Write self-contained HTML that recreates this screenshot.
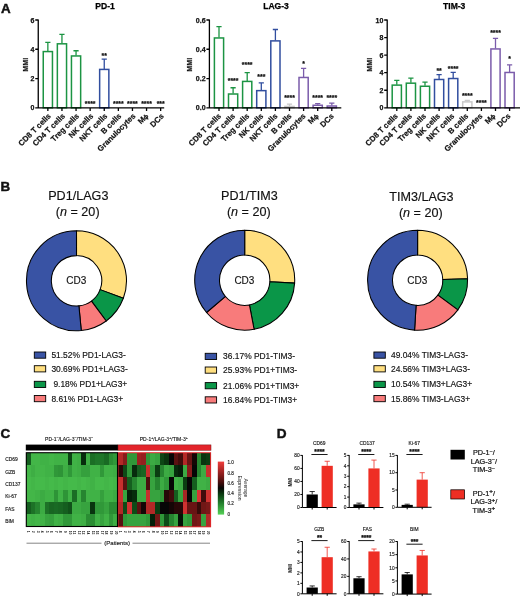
<!DOCTYPE html>
<html lang="en"><head><meta charset="utf-8"><title>Figure</title>
<style>
html,body{margin:0;padding:0;background:#fff}
body{width:520px;height:597px;overflow:hidden}
svg{display:block}
svg text{font-family:"Liberation Sans",Arial,Helvetica,sans-serif}
</style></head><body>
<svg width="520" height="597" viewBox="0 0 520 597">
<rect width="520" height="597" fill="#fff"/>
<text x="105.10" y="8.85" font-size="8.55" font-weight="bold" text-anchor="middle" fill="#000"  stroke="#000" stroke-width="0.25">PD-1</text>
<text transform="translate(27.80,64.8) rotate(-90)" font-size="7.2" font-weight="bold" text-anchor="middle" fill="#111" stroke="#111" stroke-width="0.2">MMI</text>
<path d="M47.85 51.17V42.39M45.25 42.39H50.45" stroke="#1c9443" stroke-width="1.3" fill="none"/>
<rect x="43.25" y="51.57" width="9.2" height="56.23" fill="#fff" stroke="#1c9443" stroke-width="1.5"/>
<path d="M61.95 43.41V34.34M59.35 34.34H64.55" stroke="#1c9443" stroke-width="1.3" fill="none"/>
<rect x="57.35" y="43.81" width="9.2" height="63.99" fill="#fff" stroke="#1c9443" stroke-width="1.5"/>
<path d="M76.05 55.56V50.73M73.45 50.73H78.65" stroke="#1c9443" stroke-width="1.3" fill="none"/>
<rect x="71.45" y="55.96" width="9.2" height="51.84" fill="#fff" stroke="#1c9443" stroke-width="1.5"/>
<text x="90.15" y="105.50" font-size="6.9" font-weight="bold" text-anchor="middle" fill="#111"  stroke="#111" stroke-width="0.25">****</text>
<path d="M104.25 69.02V59.07M101.65 59.07H106.85" stroke="#314e9f" stroke-width="1.3" fill="none"/>
<rect x="99.65" y="69.42" width="9.2" height="38.38" fill="#fff" stroke="#314e9f" stroke-width="1.5"/>
<text x="104.25" y="58.20" font-size="6.9" font-weight="bold" text-anchor="middle" fill="#111"  stroke="#111" stroke-width="0.25">**</text>
<text x="118.35" y="105.50" font-size="6.9" font-weight="bold" text-anchor="middle" fill="#111"  stroke="#111" stroke-width="0.25">****</text>
<text x="132.45" y="105.50" font-size="6.9" font-weight="bold" text-anchor="middle" fill="#111"  stroke="#111" stroke-width="0.25">****</text>
<text x="146.55" y="105.50" font-size="6.9" font-weight="bold" text-anchor="middle" fill="#111"  stroke="#111" stroke-width="0.25">****</text>
<text x="160.65" y="105.50" font-size="6.9" font-weight="bold" text-anchor="middle" fill="#111"  stroke="#111" stroke-width="0.25">***</text>
<path d="M38.25 19.50V107.80H164.20M38.25 107.80h-3M38.25 78.53h-3M38.25 49.27h-3M38.25 20.00h-3M47.85 107.80v3.2M61.95 107.80v3.2M76.05 107.80v3.2M90.15 107.80v3.2M104.25 107.80v3.2M118.35 107.80v3.2M132.45 107.80v3.2M146.55 107.80v3.2M160.65 107.80v3.2" stroke="#000" stroke-width="1.3" fill="none"/>
<text x="34.45" y="110.30" font-size="7.0" font-weight="bold" text-anchor="end" fill="#111"  stroke="#111" stroke-width="0.25">0</text>
<text x="34.45" y="81.03" font-size="7.0" font-weight="bold" text-anchor="end" fill="#111"  stroke="#111" stroke-width="0.25">2</text>
<text x="34.45" y="51.77" font-size="7.0" font-weight="bold" text-anchor="end" fill="#111"  stroke="#111" stroke-width="0.25">4</text>
<text x="34.45" y="22.50" font-size="7.0" font-weight="bold" text-anchor="end" fill="#111"  stroke="#111" stroke-width="0.25">6</text>
<text transform="translate(51.45,116.60) rotate(-45)" font-size="7.85" font-weight="bold" text-anchor="end" fill="#111" stroke="#111" stroke-width="0.2">CD8 T cells</text>
<text transform="translate(65.55,116.60) rotate(-45)" font-size="7.85" font-weight="bold" text-anchor="end" fill="#111" stroke="#111" stroke-width="0.2">CD4 T cells</text>
<text transform="translate(79.65,116.60) rotate(-45)" font-size="7.85" font-weight="bold" text-anchor="end" fill="#111" stroke="#111" stroke-width="0.2">Treg cells</text>
<text transform="translate(93.75,116.60) rotate(-45)" font-size="7.85" font-weight="bold" text-anchor="end" fill="#111" stroke="#111" stroke-width="0.2">NK cells</text>
<text transform="translate(107.85,116.60) rotate(-45)" font-size="7.85" font-weight="bold" text-anchor="end" fill="#111" stroke="#111" stroke-width="0.2">NKT cells</text>
<text transform="translate(121.95,116.60) rotate(-45)" font-size="7.85" font-weight="bold" text-anchor="end" fill="#111" stroke="#111" stroke-width="0.2">B cells</text>
<text transform="translate(136.05,116.60) rotate(-45)" font-size="7.85" font-weight="bold" text-anchor="end" fill="#111" stroke="#111" stroke-width="0.2">Granulocytes</text>
<text transform="translate(148.95,116.60) rotate(-45)" font-size="7.85" font-weight="bold" text-anchor="end" fill="#111" stroke="#111" stroke-width="0.2">M<tspan font-size="6.4">ϕ</tspan></text>
<text transform="translate(164.25,116.60) rotate(-45)" font-size="7.85" font-weight="bold" text-anchor="end" fill="#111" stroke="#111" stroke-width="0.2">DCs</text>
<text x="276.00" y="8.85" font-size="8.55" font-weight="bold" text-anchor="middle" fill="#000"  stroke="#000" stroke-width="0.25">LAG-3</text>
<text transform="translate(191.80,64.8) rotate(-90)" font-size="7.2" font-weight="bold" text-anchor="middle" fill="#111" stroke="#111" stroke-width="0.2">MMI</text>
<path d="M219.00 37.56V26.58M216.40 26.58H221.60" stroke="#1c9443" stroke-width="1.3" fill="none"/>
<rect x="214.40" y="37.96" width="9.2" height="69.84" fill="#fff" stroke="#1c9443" stroke-width="1.5"/>
<path d="M233.10 93.61V87.75M230.50 87.75H235.70" stroke="#1c9443" stroke-width="1.3" fill="none"/>
<rect x="228.50" y="94.01" width="9.2" height="13.79" fill="#fff" stroke="#1c9443" stroke-width="1.5"/>
<text x="233.10" y="82.50" font-size="6.9" font-weight="bold" text-anchor="middle" fill="#111"  stroke="#111" stroke-width="0.25">****</text>
<path d="M247.20 81.02V72.68M244.60 72.68H249.80" stroke="#1c9443" stroke-width="1.3" fill="none"/>
<rect x="242.60" y="81.42" width="9.2" height="26.38" fill="#fff" stroke="#1c9443" stroke-width="1.5"/>
<text x="247.20" y="67.10" font-size="6.9" font-weight="bold" text-anchor="middle" fill="#111"  stroke="#111" stroke-width="0.25">****</text>
<path d="M261.30 90.24V82.92M258.70 82.92H263.90" stroke="#314e9f" stroke-width="1.3" fill="none"/>
<rect x="256.70" y="90.64" width="9.2" height="17.16" fill="#fff" stroke="#314e9f" stroke-width="1.5"/>
<text x="261.30" y="79.20" font-size="6.9" font-weight="bold" text-anchor="middle" fill="#111"  stroke="#111" stroke-width="0.25">***</text>
<path d="M275.40 40.49V29.51M272.80 29.51H278.00" stroke="#314e9f" stroke-width="1.3" fill="none"/>
<rect x="270.80" y="40.89" width="9.2" height="66.91" fill="#fff" stroke="#314e9f" stroke-width="1.5"/>
<path d="M289.50 106.04V104.14M286.90 104.14H292.10" stroke="#c9c9c9" stroke-width="1.3" fill="none"/>
<rect x="284.90" y="106.44" width="9.2" height="1.36" fill="#fff" stroke="#c9c9c9" stroke-width="1.5"/>
<text x="289.50" y="99.90" font-size="6.9" font-weight="bold" text-anchor="middle" fill="#111"  stroke="#111" stroke-width="0.25">****</text>
<path d="M303.60 77.07V68.29M301.00 68.29H306.20" stroke="#7b5cab" stroke-width="1.3" fill="none"/>
<rect x="299.00" y="77.47" width="9.2" height="30.33" fill="#fff" stroke="#7b5cab" stroke-width="1.5"/>
<text x="303.60" y="65.50" font-size="6.9" font-weight="bold" text-anchor="middle" fill="#111"  stroke="#111" stroke-width="0.25">*</text>
<path d="M317.70 104.87V103.56M315.10 103.56H320.30" stroke="#7b5cab" stroke-width="1.3" fill="none"/>
<rect x="313.10" y="105.27" width="9.2" height="2.53" fill="#fff" stroke="#7b5cab" stroke-width="1.5"/>
<text x="317.70" y="99.90" font-size="6.9" font-weight="bold" text-anchor="middle" fill="#111"  stroke="#111" stroke-width="0.25">****</text>
<path d="M331.80 105.61V103.12M329.20 103.12H334.40" stroke="#7b5cab" stroke-width="1.3" fill="none"/>
<rect x="327.20" y="106.01" width="9.2" height="1.79" fill="#fff" stroke="#7b5cab" stroke-width="1.5"/>
<text x="331.80" y="99.90" font-size="6.9" font-weight="bold" text-anchor="middle" fill="#111"  stroke="#111" stroke-width="0.25">****</text>
<path d="M209.40 19.50V107.80H341.30M209.40 107.80h-3M209.40 78.53h-3M209.40 49.27h-3M209.40 20.00h-3M219.00 107.80v3.2M233.10 107.80v3.2M247.20 107.80v3.2M261.30 107.80v3.2M275.40 107.80v3.2M289.50 107.80v3.2M303.60 107.80v3.2M317.70 107.80v3.2M331.80 107.80v3.2" stroke="#000" stroke-width="1.3" fill="none"/>
<text x="205.60" y="110.30" font-size="7.0" font-weight="bold" text-anchor="end" fill="#111"  stroke="#111" stroke-width="0.25">0.0</text>
<text x="205.60" y="81.03" font-size="7.0" font-weight="bold" text-anchor="end" fill="#111"  stroke="#111" stroke-width="0.25">0.2</text>
<text x="205.60" y="51.77" font-size="7.0" font-weight="bold" text-anchor="end" fill="#111"  stroke="#111" stroke-width="0.25">0.4</text>
<text x="205.60" y="22.50" font-size="7.0" font-weight="bold" text-anchor="end" fill="#111"  stroke="#111" stroke-width="0.25">0.6</text>
<text transform="translate(221.60,116.60) rotate(-45)" font-size="7.85" font-weight="bold" text-anchor="end" fill="#111" stroke="#111" stroke-width="0.2">CD8 T cells</text>
<text transform="translate(235.70,116.60) rotate(-45)" font-size="7.85" font-weight="bold" text-anchor="end" fill="#111" stroke="#111" stroke-width="0.2">CD4 T cells</text>
<text transform="translate(249.80,116.60) rotate(-45)" font-size="7.85" font-weight="bold" text-anchor="end" fill="#111" stroke="#111" stroke-width="0.2">Treg cells</text>
<text transform="translate(263.90,116.60) rotate(-45)" font-size="7.85" font-weight="bold" text-anchor="end" fill="#111" stroke="#111" stroke-width="0.2">NK cells</text>
<text transform="translate(278.00,116.60) rotate(-45)" font-size="7.85" font-weight="bold" text-anchor="end" fill="#111" stroke="#111" stroke-width="0.2">NKT cells</text>
<text transform="translate(292.10,116.60) rotate(-45)" font-size="7.85" font-weight="bold" text-anchor="end" fill="#111" stroke="#111" stroke-width="0.2">B cells</text>
<text transform="translate(306.20,116.60) rotate(-45)" font-size="7.85" font-weight="bold" text-anchor="end" fill="#111" stroke="#111" stroke-width="0.2">Granulocytes</text>
<text transform="translate(319.10,116.60) rotate(-45)" font-size="7.85" font-weight="bold" text-anchor="end" fill="#111" stroke="#111" stroke-width="0.2">M<tspan font-size="6.4">ϕ</tspan></text>
<text transform="translate(334.40,116.60) rotate(-45)" font-size="7.85" font-weight="bold" text-anchor="end" fill="#111" stroke="#111" stroke-width="0.2">DCs</text>
<text x="454.20" y="8.85" font-size="8.55" font-weight="bold" text-anchor="middle" fill="#000"  stroke="#000" stroke-width="0.25">TIM-3</text>
<text transform="translate(371.50,64.8) rotate(-90)" font-size="7.2" font-weight="bold" text-anchor="middle" fill="#111" stroke="#111" stroke-width="0.2">MMI</text>
<path d="M396.80 84.71V80.41M394.20 80.41H399.40" stroke="#1c9443" stroke-width="1.3" fill="none"/>
<rect x="392.20" y="85.11" width="9.2" height="22.69" fill="#fff" stroke="#1c9443" stroke-width="1.5"/>
<path d="M410.90 82.78V78.12M408.30 78.12H413.50" stroke="#1c9443" stroke-width="1.3" fill="none"/>
<rect x="406.30" y="83.18" width="9.2" height="24.62" fill="#fff" stroke="#1c9443" stroke-width="1.5"/>
<path d="M425.00 85.85V82.16M422.40 82.16H427.60" stroke="#1c9443" stroke-width="1.3" fill="none"/>
<rect x="420.40" y="86.25" width="9.2" height="21.55" fill="#fff" stroke="#1c9443" stroke-width="1.5"/>
<path d="M439.10 79.09V74.70M436.50 74.70H441.70" stroke="#314e9f" stroke-width="1.3" fill="none"/>
<rect x="434.50" y="79.49" width="9.2" height="28.31" fill="#fff" stroke="#314e9f" stroke-width="1.5"/>
<text x="439.10" y="73.00" font-size="6.9" font-weight="bold" text-anchor="middle" fill="#111"  stroke="#111" stroke-width="0.25">**</text>
<path d="M453.20 78.12V72.42M450.60 72.42H455.80" stroke="#314e9f" stroke-width="1.3" fill="none"/>
<rect x="448.60" y="78.52" width="9.2" height="29.28" fill="#fff" stroke="#314e9f" stroke-width="1.5"/>
<text x="453.20" y="71.40" font-size="6.9" font-weight="bold" text-anchor="middle" fill="#111"  stroke="#111" stroke-width="0.25">****</text>
<path d="M467.30 101.48V100.34M464.70 100.34H469.90" stroke="#c9c9c9" stroke-width="1.3" fill="none"/>
<rect x="462.70" y="101.88" width="9.2" height="5.92" fill="#fff" stroke="#c9c9c9" stroke-width="1.5"/>
<text x="467.30" y="98.10" font-size="6.9" font-weight="bold" text-anchor="middle" fill="#111"  stroke="#111" stroke-width="0.25">****</text>
<text x="481.40" y="104.80" font-size="6.9" font-weight="bold" text-anchor="middle" fill="#111"  stroke="#111" stroke-width="0.25">****</text>
<path d="M495.50 48.54V38.44M492.90 38.44H498.10" stroke="#7b5cab" stroke-width="1.3" fill="none"/>
<rect x="490.90" y="48.94" width="9.2" height="58.86" fill="#fff" stroke="#7b5cab" stroke-width="1.5"/>
<text x="495.50" y="35.20" font-size="6.9" font-weight="bold" text-anchor="middle" fill="#111"  stroke="#111" stroke-width="0.25">****</text>
<path d="M509.60 72.07V64.78M507.00 64.78H512.20" stroke="#7b5cab" stroke-width="1.3" fill="none"/>
<rect x="505.00" y="72.47" width="9.2" height="35.33" fill="#fff" stroke="#7b5cab" stroke-width="1.5"/>
<text x="509.60" y="60.90" font-size="6.9" font-weight="bold" text-anchor="middle" fill="#111"  stroke="#111" stroke-width="0.25">*</text>
<path d="M387.20 19.50V107.80H520.00M387.20 107.80h-3M387.20 90.24h-3M387.20 72.68h-3M387.20 55.12h-3M387.20 37.56h-3M387.20 20.00h-3M396.80 107.80v3.2M410.90 107.80v3.2M425.00 107.80v3.2M439.10 107.80v3.2M453.20 107.80v3.2M467.30 107.80v3.2M481.40 107.80v3.2M495.50 107.80v3.2M509.60 107.80v3.2" stroke="#000" stroke-width="1.3" fill="none"/>
<text x="383.40" y="110.30" font-size="7.0" font-weight="bold" text-anchor="end" fill="#111"  stroke="#111" stroke-width="0.25">0</text>
<text x="383.40" y="92.74" font-size="7.0" font-weight="bold" text-anchor="end" fill="#111"  stroke="#111" stroke-width="0.25">2</text>
<text x="383.40" y="75.18" font-size="7.0" font-weight="bold" text-anchor="end" fill="#111"  stroke="#111" stroke-width="0.25">4</text>
<text x="383.40" y="57.62" font-size="7.0" font-weight="bold" text-anchor="end" fill="#111"  stroke="#111" stroke-width="0.25">6</text>
<text x="383.40" y="40.06" font-size="7.0" font-weight="bold" text-anchor="end" fill="#111"  stroke="#111" stroke-width="0.25">8</text>
<text x="383.40" y="22.50" font-size="7.0" font-weight="bold" text-anchor="end" fill="#111"  stroke="#111" stroke-width="0.25">10</text>
<text transform="translate(398.40,116.60) rotate(-45)" font-size="7.85" font-weight="bold" text-anchor="end" fill="#111" stroke="#111" stroke-width="0.2">CD8 T cells</text>
<text transform="translate(412.50,116.60) rotate(-45)" font-size="7.85" font-weight="bold" text-anchor="end" fill="#111" stroke="#111" stroke-width="0.2">CD4 T cells</text>
<text transform="translate(426.60,116.60) rotate(-45)" font-size="7.85" font-weight="bold" text-anchor="end" fill="#111" stroke="#111" stroke-width="0.2">Treg cells</text>
<text transform="translate(440.70,116.60) rotate(-45)" font-size="7.85" font-weight="bold" text-anchor="end" fill="#111" stroke="#111" stroke-width="0.2">NK cells</text>
<text transform="translate(454.80,116.60) rotate(-45)" font-size="7.85" font-weight="bold" text-anchor="end" fill="#111" stroke="#111" stroke-width="0.2">NKT cells</text>
<text transform="translate(468.90,116.60) rotate(-45)" font-size="7.85" font-weight="bold" text-anchor="end" fill="#111" stroke="#111" stroke-width="0.2">B cells</text>
<text transform="translate(483.00,116.60) rotate(-45)" font-size="7.85" font-weight="bold" text-anchor="end" fill="#111" stroke="#111" stroke-width="0.2">Granulocytes</text>
<text transform="translate(495.90,116.60) rotate(-45)" font-size="7.85" font-weight="bold" text-anchor="end" fill="#111" stroke="#111" stroke-width="0.2">M<tspan font-size="6.4">ϕ</tspan></text>
<text transform="translate(511.20,116.60) rotate(-45)" font-size="7.85" font-weight="bold" text-anchor="end" fill="#111" stroke="#111" stroke-width="0.2">DCs</text>
<text x="0.90" y="12.90" font-size="13.4" font-weight="bold" text-anchor="start" fill="#111"  stroke="#111" stroke-width="0.45">A</text>
<text x="0.40" y="191.10" font-size="13.4" font-weight="bold" text-anchor="start" fill="#111"  stroke="#111" stroke-width="0.45">B</text>
<text x="0.40" y="438.40" font-size="13.4" font-weight="bold" text-anchor="start" fill="#111"  stroke="#111" stroke-width="0.45">C</text>
<text x="276.80" y="438.20" font-size="13.6" font-weight="bold" text-anchor="start" fill="#111"  stroke="#111" stroke-width="0.45">D</text>
<path d="M76.50 230.80A50.0 50.0 0 0 1 123.34 298.30L100.11 289.62A25.2 25.2 0 0 0 76.50 255.60Z" fill="#ffdf80" stroke="#000" stroke-width="1.05" stroke-linejoin="round"/>
<path d="M123.34 298.30A50.0 50.0 0 0 1 106.22 321.01L91.48 301.07A25.2 25.2 0 0 0 100.11 289.62Z" fill="#0a9648" stroke="#000" stroke-width="1.05" stroke-linejoin="round"/>
<path d="M106.22 321.01A50.0 50.0 0 0 1 81.27 330.57L78.90 305.89A25.2 25.2 0 0 0 91.48 301.07Z" fill="#f87b7b" stroke="#000" stroke-width="1.05" stroke-linejoin="round"/>
<path d="M81.27 330.57A50.0 50.0 0 1 1 76.50 230.80L76.50 255.60A25.2 25.2 0 1 0 78.90 305.89Z" fill="#3953a4" stroke="#000" stroke-width="1.05" stroke-linejoin="round"/>
<text x="76.20" y="284.20" font-size="10" font-weight="normal" text-anchor="middle" fill="#111"  stroke="#111" stroke-width="0.15">CD3</text>
<text x="78.30" y="200.40" font-size="12.6" font-weight="normal" text-anchor="middle" fill="#111"  stroke="#111" stroke-width="0.15">PD1/LAG3</text>
<text x="77.70" y="216.40" font-size="12.6" stroke="#111" stroke-width="0.15" text-anchor="middle" fill="#111">(<tspan font-style="italic">n</tspan> = 20)</text>
<rect x="34.30" y="352.00" width="11.4" height="6.2" fill="#3953a4" stroke="#000" stroke-width="0.9"/>
<text x="51.40" y="358.10" font-size="8.42" font-weight="normal" text-anchor="start" fill="#111"  stroke="#111" stroke-width="0.15">51.52% PD1-LAG3-</text>
<rect x="34.30" y="365.70" width="11.4" height="6.2" fill="#ffdf80" stroke="#000" stroke-width="0.9"/>
<text x="51.40" y="371.80" font-size="8.42" font-weight="normal" text-anchor="start" fill="#111"  stroke="#111" stroke-width="0.15">30.69% PD1+LAG3-</text>
<rect x="34.30" y="381.30" width="11.4" height="6.2" fill="#0a9648" stroke="#000" stroke-width="0.9"/>
<text x="53.40" y="387.40" font-size="8.42" font-weight="normal" text-anchor="start" fill="#111"  stroke="#111" stroke-width="0.15">9.18% PD1+LAG3+</text>
<rect x="34.30" y="395.50" width="11.4" height="6.2" fill="#f87b7b" stroke="#000" stroke-width="0.9"/>
<text x="51.40" y="401.60" font-size="8.42" font-weight="normal" text-anchor="start" fill="#111"  stroke="#111" stroke-width="0.15">8.61% PD1-LAG3+</text>
<path d="M244.70 230.20A50.0 50.0 0 0 1 294.61 283.12L269.86 281.67A25.2 25.2 0 0 0 244.70 255.00Z" fill="#ffdf80" stroke="#000" stroke-width="1.05" stroke-linejoin="round"/>
<path d="M294.61 283.12A50.0 50.0 0 0 1 254.10 329.31L249.44 304.95A25.2 25.2 0 0 0 269.86 281.67Z" fill="#0a9648" stroke="#000" stroke-width="1.05" stroke-linejoin="round"/>
<path d="M254.10 329.31A50.0 50.0 0 0 1 206.52 312.48L225.46 296.47A25.2 25.2 0 0 0 249.44 304.95Z" fill="#f87b7b" stroke="#000" stroke-width="1.05" stroke-linejoin="round"/>
<path d="M206.52 312.48A50.0 50.0 0 0 1 244.70 230.20L244.70 255.00A25.2 25.2 0 0 0 225.46 296.47Z" fill="#3953a4" stroke="#000" stroke-width="1.05" stroke-linejoin="round"/>
<text x="244.40" y="283.60" font-size="10" font-weight="normal" text-anchor="middle" fill="#111"  stroke="#111" stroke-width="0.15">CD3</text>
<text x="249.40" y="200.40" font-size="12.6" font-weight="normal" text-anchor="middle" fill="#111"  stroke="#111" stroke-width="0.15">PD1/TIM3</text>
<text x="248.80" y="216.40" font-size="12.6" stroke="#111" stroke-width="0.15" text-anchor="middle" fill="#111">(<tspan font-style="italic">n</tspan> = 20)</text>
<rect x="205.20" y="353.30" width="11.4" height="6.2" fill="#3953a4" stroke="#000" stroke-width="0.9"/>
<text x="223.10" y="359.40" font-size="8.42" font-weight="normal" text-anchor="start" fill="#111"  stroke="#111" stroke-width="0.15">36.17% PD1-TIM3-</text>
<rect x="205.20" y="367.00" width="11.4" height="6.2" fill="#ffdf80" stroke="#000" stroke-width="0.9"/>
<text x="223.10" y="373.10" font-size="8.42" font-weight="normal" text-anchor="start" fill="#111"  stroke="#111" stroke-width="0.15">25.93% PD1+TIM3-</text>
<rect x="205.20" y="382.60" width="11.4" height="6.2" fill="#0a9648" stroke="#000" stroke-width="0.9"/>
<text x="223.10" y="388.70" font-size="8.42" font-weight="normal" text-anchor="start" fill="#111"  stroke="#111" stroke-width="0.15">21.06% PD1+TIM3+</text>
<rect x="205.20" y="396.80" width="11.4" height="6.2" fill="#f87b7b" stroke="#000" stroke-width="0.9"/>
<text x="223.10" y="402.90" font-size="8.42" font-weight="normal" text-anchor="start" fill="#111"  stroke="#111" stroke-width="0.15">16.84% PD1-TIM3+</text>
<path d="M417.60 230.20A50.0 50.0 0 0 1 467.58 278.82L442.79 279.50A25.2 25.2 0 0 0 417.60 255.00Z" fill="#ffdf80" stroke="#000" stroke-width="1.05" stroke-linejoin="round"/>
<path d="M467.58 278.82A50.0 50.0 0 0 1 457.87 309.84L437.89 295.14A25.2 25.2 0 0 0 442.79 279.50Z" fill="#0a9648" stroke="#000" stroke-width="1.05" stroke-linejoin="round"/>
<path d="M457.87 309.84A50.0 50.0 0 0 1 414.59 330.11L416.08 305.35A25.2 25.2 0 0 0 437.89 295.14Z" fill="#f87b7b" stroke="#000" stroke-width="1.05" stroke-linejoin="round"/>
<path d="M414.59 330.11A50.0 50.0 0 0 1 417.60 230.20L417.60 255.00A25.2 25.2 0 0 0 416.08 305.35Z" fill="#3953a4" stroke="#000" stroke-width="1.05" stroke-linejoin="round"/>
<text x="417.30" y="283.60" font-size="10" font-weight="normal" text-anchor="middle" fill="#111"  stroke="#111" stroke-width="0.15">CD3</text>
<text x="421.40" y="201.30" font-size="12.6" font-weight="normal" text-anchor="middle" fill="#111"  stroke="#111" stroke-width="0.15">TIM3/LAG3</text>
<text x="420.80" y="217.30" font-size="12.6" stroke="#111" stroke-width="0.15" text-anchor="middle" fill="#111">(<tspan font-style="italic">n</tspan> = 20)</text>
<rect x="373.90" y="352.00" width="11.4" height="6.2" fill="#3953a4" stroke="#000" stroke-width="0.9"/>
<text x="391.00" y="358.10" font-size="8.42" font-weight="normal" text-anchor="start" fill="#111"  stroke="#111" stroke-width="0.15">49.04% TIM3-LAG3-</text>
<rect x="373.90" y="365.70" width="11.4" height="6.2" fill="#ffdf80" stroke="#000" stroke-width="0.9"/>
<text x="391.00" y="371.80" font-size="8.42" font-weight="normal" text-anchor="start" fill="#111"  stroke="#111" stroke-width="0.15">24.56% TIM3+LAG3-</text>
<rect x="373.90" y="381.30" width="11.4" height="6.2" fill="#0a9648" stroke="#000" stroke-width="0.9"/>
<text x="391.00" y="387.40" font-size="8.42" font-weight="normal" text-anchor="start" fill="#111"  stroke="#111" stroke-width="0.15">10.54% TIM3+LAG3+</text>
<rect x="373.90" y="395.50" width="11.4" height="6.2" fill="#f87b7b" stroke="#000" stroke-width="0.9"/>
<text x="391.00" y="401.60" font-size="8.42" font-weight="normal" text-anchor="start" fill="#111"  stroke="#111" stroke-width="0.15">15.86% TIM3-LAG3+</text>
<g shape-rendering="crispEdges">
<rect x="26.30" y="452.70" width="4.63" height="12.40" fill="#155e1f"/>
<rect x="118.00" y="452.70" width="4.68" height="12.40" fill="#b22927"/>
<rect x="30.89" y="452.70" width="4.63" height="12.40" fill="#43b648"/>
<rect x="122.63" y="452.70" width="4.68" height="12.40" fill="#871c1b"/>
<rect x="35.47" y="452.70" width="4.63" height="12.40" fill="#43b648"/>
<rect x="127.26" y="452.70" width="4.68" height="12.40" fill="#309839"/>
<rect x="40.05" y="452.70" width="4.63" height="12.40" fill="#40b246"/>
<rect x="131.89" y="452.70" width="4.68" height="12.40" fill="#309839"/>
<rect x="44.64" y="452.70" width="4.63" height="12.40" fill="#40b246"/>
<rect x="136.52" y="452.70" width="4.68" height="12.40" fill="#9d2221"/>
<rect x="49.23" y="452.70" width="4.63" height="12.40" fill="#43b648"/>
<rect x="141.15" y="452.70" width="4.68" height="12.40" fill="#94201f"/>
<rect x="53.81" y="452.70" width="4.63" height="12.40" fill="#40b246"/>
<rect x="145.78" y="452.70" width="4.68" height="12.40" fill="#309839"/>
<rect x="58.39" y="452.70" width="4.63" height="12.40" fill="#40b246"/>
<rect x="150.41" y="452.70" width="4.68" height="12.40" fill="#3cab43"/>
<rect x="62.98" y="452.70" width="4.63" height="12.40" fill="#40b246"/>
<rect x="155.04" y="452.70" width="4.68" height="12.40" fill="#37a33f"/>
<rect x="67.56" y="452.70" width="4.63" height="12.40" fill="#0d4615"/>
<rect x="159.67" y="452.70" width="4.68" height="12.40" fill="#0d4615"/>
<rect x="72.15" y="452.70" width="4.63" height="12.40" fill="#40b246"/>
<rect x="164.30" y="452.70" width="4.68" height="12.40" fill="#09350f"/>
<rect x="76.73" y="452.70" width="4.63" height="12.40" fill="#3eae44"/>
<rect x="168.93" y="452.70" width="4.68" height="12.40" fill="#060606"/>
<rect x="81.32" y="452.70" width="4.63" height="12.40" fill="#072c0d"/>
<rect x="173.56" y="452.70" width="4.68" height="12.40" fill="#5a1111"/>
<rect x="85.91" y="452.70" width="4.63" height="12.40" fill="#3eae44"/>
<rect x="178.19" y="452.70" width="4.68" height="12.40" fill="#410c0c"/>
<rect x="90.49" y="452.70" width="4.63" height="12.40" fill="#1b6e25"/>
<rect x="182.82" y="452.70" width="4.68" height="12.40" fill="#b22927"/>
<rect x="95.08" y="452.70" width="4.63" height="12.40" fill="#1e7629"/>
<rect x="187.45" y="452.70" width="4.68" height="12.40" fill="#681414"/>
<rect x="99.66" y="452.70" width="4.63" height="12.40" fill="#1e7629"/>
<rect x="192.08" y="452.70" width="4.68" height="12.40" fill="#150606"/>
<rect x="104.24" y="452.70" width="4.63" height="12.40" fill="#196a24"/>
<rect x="196.71" y="452.70" width="4.68" height="12.40" fill="#268530"/>
<rect x="108.83" y="452.70" width="4.63" height="12.40" fill="#2a8d33"/>
<rect x="201.34" y="452.70" width="4.68" height="12.40" fill="#09350f"/>
<rect x="113.41" y="452.70" width="4.63" height="12.40" fill="#309839"/>
<rect x="205.97" y="452.70" width="4.68" height="12.40" fill="#0b3d12"/>
<rect x="26.30" y="465.05" width="4.63" height="12.40" fill="#43b648"/>
<rect x="118.00" y="465.05" width="4.68" height="12.40" fill="#270808"/>
<rect x="30.89" y="465.05" width="4.63" height="12.40" fill="#3eae44"/>
<rect x="122.63" y="465.05" width="4.68" height="12.40" fill="#0e4a17"/>
<rect x="35.47" y="465.05" width="4.63" height="12.40" fill="#43b648"/>
<rect x="127.26" y="465.05" width="4.68" height="12.40" fill="#309839"/>
<rect x="40.05" y="465.05" width="4.63" height="12.40" fill="#43b648"/>
<rect x="131.89" y="465.05" width="4.68" height="12.40" fill="#072c0d"/>
<rect x="44.64" y="465.05" width="4.63" height="12.40" fill="#40b246"/>
<rect x="136.52" y="465.05" width="4.68" height="12.40" fill="#155e1f"/>
<rect x="49.23" y="465.05" width="4.63" height="12.40" fill="#40b246"/>
<rect x="141.15" y="465.05" width="4.68" height="12.40" fill="#186622"/>
<rect x="53.81" y="465.05" width="4.63" height="12.40" fill="#309839"/>
<rect x="145.78" y="465.05" width="4.68" height="12.40" fill="#c72f2e"/>
<rect x="58.39" y="465.05" width="4.63" height="12.40" fill="#2e9437"/>
<rect x="150.41" y="465.05" width="4.68" height="12.40" fill="#309839"/>
<rect x="62.98" y="465.05" width="4.63" height="12.40" fill="#3eae44"/>
<rect x="155.04" y="465.05" width="4.68" height="12.40" fill="#0b3d12"/>
<rect x="67.56" y="465.05" width="4.63" height="12.40" fill="#309839"/>
<rect x="159.67" y="465.05" width="4.68" height="12.40" fill="#268530"/>
<rect x="72.15" y="465.05" width="4.63" height="12.40" fill="#40b246"/>
<rect x="164.30" y="465.05" width="4.68" height="12.40" fill="#3cab43"/>
<rect x="76.73" y="465.05" width="4.63" height="12.40" fill="#3eae44"/>
<rect x="168.93" y="465.05" width="4.68" height="12.40" fill="#37a33f"/>
<rect x="81.32" y="465.05" width="4.63" height="12.40" fill="#35a03d"/>
<rect x="173.56" y="465.05" width="4.68" height="12.40" fill="#072c0d"/>
<rect x="85.91" y="465.05" width="4.63" height="12.40" fill="#35a03d"/>
<rect x="178.19" y="465.05" width="4.68" height="12.40" fill="#051f09"/>
<rect x="90.49" y="465.05" width="4.63" height="12.40" fill="#40b246"/>
<rect x="182.82" y="465.05" width="4.68" height="12.40" fill="#3cab43"/>
<rect x="95.08" y="465.05" width="4.63" height="12.40" fill="#40b246"/>
<rect x="187.45" y="465.05" width="4.68" height="12.40" fill="#871c1b"/>
<rect x="99.66" y="465.05" width="4.63" height="12.40" fill="#309839"/>
<rect x="192.08" y="465.05" width="4.68" height="12.40" fill="#060606"/>
<rect x="104.24" y="465.05" width="4.63" height="12.40" fill="#40b246"/>
<rect x="196.71" y="465.05" width="4.68" height="12.40" fill="#268530"/>
<rect x="108.83" y="465.05" width="4.63" height="12.40" fill="#40b246"/>
<rect x="201.34" y="465.05" width="4.68" height="12.40" fill="#3cab43"/>
<rect x="113.41" y="465.05" width="4.63" height="12.40" fill="#3eae44"/>
<rect x="205.97" y="465.05" width="4.68" height="12.40" fill="#c72f2e"/>
<rect x="26.30" y="477.40" width="4.63" height="12.40" fill="#45ba4a"/>
<rect x="118.00" y="477.40" width="4.68" height="12.40" fill="#c72f2e"/>
<rect x="30.89" y="477.40" width="4.63" height="12.40" fill="#43b648"/>
<rect x="122.63" y="477.40" width="4.68" height="12.40" fill="#5a1111"/>
<rect x="35.47" y="477.40" width="4.63" height="12.40" fill="#45ba4a"/>
<rect x="127.26" y="477.40" width="4.68" height="12.40" fill="#155e1f"/>
<rect x="40.05" y="477.40" width="4.63" height="12.40" fill="#45ba4a"/>
<rect x="131.89" y="477.40" width="4.68" height="12.40" fill="#268530"/>
<rect x="44.64" y="477.40" width="4.63" height="12.40" fill="#43b648"/>
<rect x="136.52" y="477.40" width="4.68" height="12.40" fill="#3cab43"/>
<rect x="49.23" y="477.40" width="4.63" height="12.40" fill="#45ba4a"/>
<rect x="141.15" y="477.40" width="4.68" height="12.40" fill="#3cab43"/>
<rect x="53.81" y="477.40" width="4.63" height="12.40" fill="#43b648"/>
<rect x="145.78" y="477.40" width="4.68" height="12.40" fill="#4b0e0e"/>
<rect x="58.39" y="477.40" width="4.63" height="12.40" fill="#45ba4a"/>
<rect x="150.41" y="477.40" width="4.68" height="12.40" fill="#37a33f"/>
<rect x="62.98" y="477.40" width="4.63" height="12.40" fill="#43b648"/>
<rect x="155.04" y="477.40" width="4.68" height="12.40" fill="#268530"/>
<rect x="67.56" y="477.40" width="4.63" height="12.40" fill="#45ba4a"/>
<rect x="159.67" y="477.40" width="4.68" height="12.40" fill="#3cab43"/>
<rect x="72.15" y="477.40" width="4.63" height="12.40" fill="#45ba4a"/>
<rect x="164.30" y="477.40" width="4.68" height="12.40" fill="#309839"/>
<rect x="76.73" y="477.40" width="4.63" height="12.40" fill="#43b648"/>
<rect x="168.93" y="477.40" width="4.68" height="12.40" fill="#060606"/>
<rect x="81.32" y="477.40" width="4.63" height="12.40" fill="#45ba4a"/>
<rect x="173.56" y="477.40" width="4.68" height="12.40" fill="#40b246"/>
<rect x="85.91" y="477.40" width="4.63" height="12.40" fill="#43b648"/>
<rect x="178.19" y="477.40" width="4.68" height="12.40" fill="#3cab43"/>
<rect x="90.49" y="477.40" width="4.63" height="12.40" fill="#40b246"/>
<rect x="182.82" y="477.40" width="4.68" height="12.40" fill="#0b3d12"/>
<rect x="95.08" y="477.40" width="4.63" height="12.40" fill="#45ba4a"/>
<rect x="187.45" y="477.40" width="4.68" height="12.40" fill="#060606"/>
<rect x="99.66" y="477.40" width="4.63" height="12.40" fill="#45ba4a"/>
<rect x="192.08" y="477.40" width="4.68" height="12.40" fill="#155e1f"/>
<rect x="104.24" y="477.40" width="4.63" height="12.40" fill="#43b648"/>
<rect x="196.71" y="477.40" width="4.68" height="12.40" fill="#40b246"/>
<rect x="108.83" y="477.40" width="4.63" height="12.40" fill="#45ba4a"/>
<rect x="201.34" y="477.40" width="4.68" height="12.40" fill="#40b246"/>
<rect x="113.41" y="477.40" width="4.63" height="12.40" fill="#43b648"/>
<rect x="205.97" y="477.40" width="4.68" height="12.40" fill="#3cab43"/>
<rect x="26.30" y="489.75" width="4.63" height="12.40" fill="#43b648"/>
<rect x="118.00" y="489.75" width="4.68" height="12.40" fill="#c72f2e"/>
<rect x="30.89" y="489.75" width="4.63" height="12.40" fill="#43b648"/>
<rect x="122.63" y="489.75" width="4.68" height="12.40" fill="#37a33f"/>
<rect x="35.47" y="489.75" width="4.63" height="12.40" fill="#40b246"/>
<rect x="127.26" y="489.75" width="4.68" height="12.40" fill="#051f09"/>
<rect x="40.05" y="489.75" width="4.63" height="12.40" fill="#3cab43"/>
<rect x="131.89" y="489.75" width="4.68" height="12.40" fill="#072c0d"/>
<rect x="44.64" y="489.75" width="4.63" height="12.40" fill="#40b246"/>
<rect x="136.52" y="489.75" width="4.68" height="12.40" fill="#3cab43"/>
<rect x="49.23" y="489.75" width="4.63" height="12.40" fill="#40b246"/>
<rect x="141.15" y="489.75" width="4.68" height="12.40" fill="#3cab43"/>
<rect x="53.81" y="489.75" width="4.63" height="12.40" fill="#2e9437"/>
<rect x="145.78" y="489.75" width="4.68" height="12.40" fill="#c72f2e"/>
<rect x="58.39" y="489.75" width="4.63" height="12.40" fill="#40b246"/>
<rect x="150.41" y="489.75" width="4.68" height="12.40" fill="#37a33f"/>
<rect x="62.98" y="489.75" width="4.63" height="12.40" fill="#2e9437"/>
<rect x="155.04" y="489.75" width="4.68" height="12.40" fill="#37a33f"/>
<rect x="67.56" y="489.75" width="4.63" height="12.40" fill="#40b246"/>
<rect x="159.67" y="489.75" width="4.68" height="12.40" fill="#309839"/>
<rect x="72.15" y="489.75" width="4.63" height="12.40" fill="#1b6e25"/>
<rect x="164.30" y="489.75" width="4.68" height="12.40" fill="#270808"/>
<rect x="76.73" y="489.75" width="4.63" height="12.40" fill="#40b246"/>
<rect x="168.93" y="489.75" width="4.68" height="12.40" fill="#410c0c"/>
<rect x="81.32" y="489.75" width="4.63" height="12.40" fill="#268530"/>
<rect x="173.56" y="489.75" width="4.68" height="12.40" fill="#155e1f"/>
<rect x="85.91" y="489.75" width="4.63" height="12.40" fill="#40b246"/>
<rect x="178.19" y="489.75" width="4.68" height="12.40" fill="#37a33f"/>
<rect x="90.49" y="489.75" width="4.63" height="12.40" fill="#40b246"/>
<rect x="182.82" y="489.75" width="4.68" height="12.40" fill="#a62524"/>
<rect x="95.08" y="489.75" width="4.63" height="12.40" fill="#40b246"/>
<rect x="187.45" y="489.75" width="4.68" height="12.40" fill="#060606"/>
<rect x="99.66" y="489.75" width="4.63" height="12.40" fill="#35a03d"/>
<rect x="192.08" y="489.75" width="4.68" height="12.40" fill="#37a33f"/>
<rect x="104.24" y="489.75" width="4.63" height="12.40" fill="#40b246"/>
<rect x="196.71" y="489.75" width="4.68" height="12.40" fill="#db3635"/>
<rect x="108.83" y="489.75" width="4.63" height="12.40" fill="#40b246"/>
<rect x="201.34" y="489.75" width="4.68" height="12.40" fill="#410c0c"/>
<rect x="113.41" y="489.75" width="4.63" height="12.40" fill="#3cab43"/>
<rect x="205.97" y="489.75" width="4.68" height="12.40" fill="#cf3231"/>
<rect x="26.30" y="502.10" width="4.63" height="12.40" fill="#155e1f"/>
<rect x="118.00" y="502.10" width="4.68" height="12.40" fill="#b22927"/>
<rect x="30.89" y="502.10" width="4.63" height="12.40" fill="#1d7227"/>
<rect x="122.63" y="502.10" width="4.68" height="12.40" fill="#0e4a17"/>
<rect x="35.47" y="502.10" width="4.63" height="12.40" fill="#268530"/>
<rect x="127.26" y="502.10" width="4.68" height="12.40" fill="#cf3231"/>
<rect x="40.05" y="502.10" width="4.63" height="12.40" fill="#3cab43"/>
<rect x="131.89" y="502.10" width="4.68" height="12.40" fill="#0e4a17"/>
<rect x="44.64" y="502.10" width="4.63" height="12.40" fill="#1d7227"/>
<rect x="136.52" y="502.10" width="4.68" height="12.40" fill="#5a1111"/>
<rect x="49.23" y="502.10" width="4.63" height="12.40" fill="#186622"/>
<rect x="141.15" y="502.10" width="4.68" height="12.40" fill="#150606"/>
<rect x="53.81" y="502.10" width="4.63" height="12.40" fill="#196a24"/>
<rect x="145.78" y="502.10" width="4.68" height="12.40" fill="#b22927"/>
<rect x="58.39" y="502.10" width="4.63" height="12.40" fill="#186622"/>
<rect x="150.41" y="502.10" width="4.68" height="12.40" fill="#b22927"/>
<rect x="62.98" y="502.10" width="4.63" height="12.40" fill="#155e1f"/>
<rect x="155.04" y="502.10" width="4.68" height="12.40" fill="#0b3d12"/>
<rect x="67.56" y="502.10" width="4.63" height="12.40" fill="#11521a"/>
<rect x="159.67" y="502.10" width="4.68" height="12.40" fill="#060606"/>
<rect x="72.15" y="502.10" width="4.63" height="12.40" fill="#3cab43"/>
<rect x="164.30" y="502.10" width="4.68" height="12.40" fill="#060606"/>
<rect x="76.73" y="502.10" width="4.63" height="12.40" fill="#3cab43"/>
<rect x="168.93" y="502.10" width="4.68" height="12.40" fill="#150606"/>
<rect x="81.32" y="502.10" width="4.63" height="12.40" fill="#37a33f"/>
<rect x="173.56" y="502.10" width="4.68" height="12.40" fill="#270808"/>
<rect x="85.91" y="502.10" width="4.63" height="12.40" fill="#37a33f"/>
<rect x="178.19" y="502.10" width="4.68" height="12.40" fill="#270808"/>
<rect x="90.49" y="502.10" width="4.63" height="12.40" fill="#09350f"/>
<rect x="182.82" y="502.10" width="4.68" height="12.40" fill="#cf3231"/>
<rect x="95.08" y="502.10" width="4.63" height="12.40" fill="#309839"/>
<rect x="187.45" y="502.10" width="4.68" height="12.40" fill="#681414"/>
<rect x="99.66" y="502.10" width="4.63" height="12.40" fill="#309839"/>
<rect x="192.08" y="502.10" width="4.68" height="12.40" fill="#681414"/>
<rect x="104.24" y="502.10" width="4.63" height="12.40" fill="#37a33f"/>
<rect x="196.71" y="502.10" width="4.68" height="12.40" fill="#370b0a"/>
<rect x="108.83" y="502.10" width="4.63" height="12.40" fill="#2a8d33"/>
<rect x="201.34" y="502.10" width="4.68" height="12.40" fill="#711716"/>
<rect x="113.41" y="502.10" width="4.63" height="12.40" fill="#2a8d33"/>
<rect x="205.97" y="502.10" width="4.68" height="12.40" fill="#7a1918"/>
<rect x="26.30" y="514.45" width="4.63" height="12.40" fill="#43b648"/>
<rect x="118.00" y="514.45" width="4.68" height="12.40" fill="#5a1111"/>
<rect x="30.89" y="514.45" width="4.63" height="12.40" fill="#40b246"/>
<rect x="122.63" y="514.45" width="4.68" height="12.40" fill="#309839"/>
<rect x="35.47" y="514.45" width="4.63" height="12.40" fill="#43b648"/>
<rect x="127.26" y="514.45" width="4.68" height="12.40" fill="#37a33f"/>
<rect x="40.05" y="514.45" width="4.63" height="12.40" fill="#40b246"/>
<rect x="131.89" y="514.45" width="4.68" height="12.40" fill="#37a33f"/>
<rect x="44.64" y="514.45" width="4.63" height="12.40" fill="#37a33f"/>
<rect x="136.52" y="514.45" width="4.68" height="12.40" fill="#37a33f"/>
<rect x="49.23" y="514.45" width="4.63" height="12.40" fill="#35a03d"/>
<rect x="141.15" y="514.45" width="4.68" height="12.40" fill="#37a33f"/>
<rect x="53.81" y="514.45" width="4.63" height="12.40" fill="#40b246"/>
<rect x="145.78" y="514.45" width="4.68" height="12.40" fill="#309839"/>
<rect x="58.39" y="514.45" width="4.63" height="12.40" fill="#3eae44"/>
<rect x="150.41" y="514.45" width="4.68" height="12.40" fill="#051f09"/>
<rect x="62.98" y="514.45" width="4.63" height="12.40" fill="#309839"/>
<rect x="155.04" y="514.45" width="4.68" height="12.40" fill="#711716"/>
<rect x="67.56" y="514.45" width="4.63" height="12.40" fill="#309839"/>
<rect x="159.67" y="514.45" width="4.68" height="12.40" fill="#309839"/>
<rect x="72.15" y="514.45" width="4.63" height="12.40" fill="#40b246"/>
<rect x="164.30" y="514.45" width="4.68" height="12.40" fill="#0e4a17"/>
<rect x="76.73" y="514.45" width="4.63" height="12.40" fill="#40b246"/>
<rect x="168.93" y="514.45" width="4.68" height="12.40" fill="#268530"/>
<rect x="81.32" y="514.45" width="4.63" height="12.40" fill="#3eae44"/>
<rect x="173.56" y="514.45" width="4.68" height="12.40" fill="#37a33f"/>
<rect x="85.91" y="514.45" width="4.63" height="12.40" fill="#2a8d33"/>
<rect x="178.19" y="514.45" width="4.68" height="12.40" fill="#041106"/>
<rect x="90.49" y="514.45" width="4.63" height="12.40" fill="#2a8d33"/>
<rect x="182.82" y="514.45" width="4.68" height="12.40" fill="#37a33f"/>
<rect x="95.08" y="514.45" width="4.63" height="12.40" fill="#40b246"/>
<rect x="187.45" y="514.45" width="4.68" height="12.40" fill="#309839"/>
<rect x="99.66" y="514.45" width="4.63" height="12.40" fill="#37a33f"/>
<rect x="192.08" y="514.45" width="4.68" height="12.40" fill="#711716"/>
<rect x="104.24" y="514.45" width="4.63" height="12.40" fill="#40b246"/>
<rect x="196.71" y="514.45" width="4.68" height="12.40" fill="#7a1918"/>
<rect x="108.83" y="514.45" width="4.63" height="12.40" fill="#309839"/>
<rect x="201.34" y="514.45" width="4.68" height="12.40" fill="#37a33f"/>
<rect x="113.41" y="514.45" width="4.63" height="12.40" fill="#3eae44"/>
<rect x="205.97" y="514.45" width="4.68" height="12.40" fill="#b22927"/>
</g>
<rect x="118.00" y="452.70" width="92.60" height="74.10" fill="none" stroke="#e0262b" stroke-width="1"/>
<rect x="26.30" y="452.70" width="91.20" height="73.80" fill="none" stroke="#000" stroke-width="1.1"/>
<rect x="25.80" y="444.6" width="92.20" height="5.9" fill="#000"/>
<rect x="118.00" y="444.9" width="93.00" height="5.4" fill="#e3242b" stroke="#7a1515" stroke-width="0.5"/>
<text x="69.1" y="441" font-size="5.0" text-anchor="middle" fill="#111" stroke="#111" stroke-width="0.12">PD-1<tspan dy="-1.8" font-size="3.6">−</tspan><tspan dy="1.8">/LAG-3</tspan><tspan dy="-1.8" font-size="3.6">−</tspan><tspan dy="1.8">/TIM-3</tspan><tspan dy="-1.8" font-size="3.6">−</tspan></text>
<text x="163.8" y="441" font-size="5.0" text-anchor="middle" fill="#111" stroke="#111" stroke-width="0.12">PD-1<tspan dy="-1.8" font-size="3.6">+</tspan><tspan dy="1.8">/LAG-3</tspan><tspan dy="-1.8" font-size="3.6">+</tspan><tspan dy="1.8">/TIM-3</tspan><tspan dy="-1.8" font-size="3.6">+</tspan></text>
<text x="5.20" y="461.18" font-size="4.9" font-weight="normal" text-anchor="start" fill="#1a1a1a"  stroke="#1a1a1a" stroke-width="0.15">CD69</text>
<text x="5.20" y="473.52" font-size="4.9" font-weight="normal" text-anchor="start" fill="#1a1a1a"  stroke="#1a1a1a" stroke-width="0.15">GZB</text>
<text x="5.20" y="485.88" font-size="4.9" font-weight="normal" text-anchor="start" fill="#1a1a1a"  stroke="#1a1a1a" stroke-width="0.15">CD137</text>
<text x="5.20" y="498.22" font-size="4.9" font-weight="normal" text-anchor="start" fill="#1a1a1a"  stroke="#1a1a1a" stroke-width="0.15">Ki-67</text>
<text x="5.20" y="510.57" font-size="4.9" font-weight="normal" text-anchor="start" fill="#1a1a1a"  stroke="#1a1a1a" stroke-width="0.15">FAS</text>
<text x="5.20" y="522.92" font-size="4.9" font-weight="normal" text-anchor="start" fill="#1a1a1a"  stroke="#1a1a1a" stroke-width="0.15">BIM</text>
<text transform="translate(27.39,530.7) rotate(90)" font-size="3.4" font-weight="bold" fill="#111">1</text>
<text transform="translate(31.98,530.7) rotate(90)" font-size="3.4" font-weight="bold" fill="#111">2</text>
<text transform="translate(36.56,530.7) rotate(90)" font-size="3.4" font-weight="bold" fill="#111">3</text>
<text transform="translate(41.15,530.7) rotate(90)" font-size="3.4" font-weight="bold" fill="#111">4</text>
<text transform="translate(45.73,530.7) rotate(90)" font-size="3.4" font-weight="bold" fill="#111">5</text>
<text transform="translate(50.32,530.7) rotate(90)" font-size="3.4" font-weight="bold" fill="#111">6</text>
<text transform="translate(54.90,530.7) rotate(90)" font-size="3.4" font-weight="bold" fill="#111">7</text>
<text transform="translate(59.49,530.7) rotate(90)" font-size="3.4" font-weight="bold" fill="#111">8</text>
<text transform="translate(64.07,530.7) rotate(90)" font-size="3.4" font-weight="bold" fill="#111">9</text>
<text transform="translate(68.66,530.7) rotate(90)" font-size="3.4" font-weight="bold" fill="#111">10</text>
<text transform="translate(73.24,530.7) rotate(90)" font-size="3.4" font-weight="bold" fill="#111">11</text>
<text transform="translate(77.83,530.7) rotate(90)" font-size="3.4" font-weight="bold" fill="#111">12</text>
<text transform="translate(82.41,530.7) rotate(90)" font-size="3.4" font-weight="bold" fill="#111">13</text>
<text transform="translate(87.00,530.7) rotate(90)" font-size="3.4" font-weight="bold" fill="#111">14</text>
<text transform="translate(91.58,530.7) rotate(90)" font-size="3.4" font-weight="bold" fill="#111">15</text>
<text transform="translate(96.17,530.7) rotate(90)" font-size="3.4" font-weight="bold" fill="#111">16</text>
<text transform="translate(100.75,530.7) rotate(90)" font-size="3.4" font-weight="bold" fill="#111">17</text>
<text transform="translate(105.34,530.7) rotate(90)" font-size="3.4" font-weight="bold" fill="#111">18</text>
<text transform="translate(109.92,530.7) rotate(90)" font-size="3.4" font-weight="bold" fill="#111">19</text>
<text transform="translate(114.51,530.7) rotate(90)" font-size="3.4" font-weight="bold" fill="#111">20</text>
<text transform="translate(119.11,530.7) rotate(90)" font-size="3.4" font-weight="bold" fill="#111">1</text>
<text transform="translate(123.74,530.7) rotate(90)" font-size="3.4" font-weight="bold" fill="#111">2</text>
<text transform="translate(128.38,530.7) rotate(90)" font-size="3.4" font-weight="bold" fill="#111">3</text>
<text transform="translate(133.00,530.7) rotate(90)" font-size="3.4" font-weight="bold" fill="#111">4</text>
<text transform="translate(137.64,530.7) rotate(90)" font-size="3.4" font-weight="bold" fill="#111">5</text>
<text transform="translate(142.27,530.7) rotate(90)" font-size="3.4" font-weight="bold" fill="#111">6</text>
<text transform="translate(146.90,530.7) rotate(90)" font-size="3.4" font-weight="bold" fill="#111">7</text>
<text transform="translate(151.53,530.7) rotate(90)" font-size="3.4" font-weight="bold" fill="#111">8</text>
<text transform="translate(156.16,530.7) rotate(90)" font-size="3.4" font-weight="bold" fill="#111">9</text>
<text transform="translate(160.79,530.7) rotate(90)" font-size="3.4" font-weight="bold" fill="#111">10</text>
<text transform="translate(165.42,530.7) rotate(90)" font-size="3.4" font-weight="bold" fill="#111">11</text>
<text transform="translate(170.05,530.7) rotate(90)" font-size="3.4" font-weight="bold" fill="#111">12</text>
<text transform="translate(174.68,530.7) rotate(90)" font-size="3.4" font-weight="bold" fill="#111">13</text>
<text transform="translate(179.31,530.7) rotate(90)" font-size="3.4" font-weight="bold" fill="#111">14</text>
<text transform="translate(183.94,530.7) rotate(90)" font-size="3.4" font-weight="bold" fill="#111">15</text>
<text transform="translate(188.56,530.7) rotate(90)" font-size="3.4" font-weight="bold" fill="#111">16</text>
<text transform="translate(193.19,530.7) rotate(90)" font-size="3.4" font-weight="bold" fill="#111">17</text>
<text transform="translate(197.82,530.7) rotate(90)" font-size="3.4" font-weight="bold" fill="#111">18</text>
<text transform="translate(202.46,530.7) rotate(90)" font-size="3.4" font-weight="bold" fill="#111">19</text>
<text transform="translate(207.09,530.7) rotate(90)" font-size="3.4" font-weight="bold" fill="#111">20</text>
<path d="M26.5 543.2H101.5M132.5 543.2H210" stroke="#333" stroke-width="0.6"/>
<text x="117.20" y="545.10" font-size="6.0" font-weight="normal" text-anchor="middle" fill="#1a1a1a"  stroke="#1a1a1a" stroke-width="0.15">(Patients)</text>
<defs><linearGradient id="cb" x1="0" y1="0" x2="0" y2="1">
<stop offset="0%" stop-color="#f03e3c"/>
<stop offset="10%" stop-color="#c72f2e"/>
<stop offset="20%" stop-color="#9d2221"/>
<stop offset="30%" stop-color="#711716"/>
<stop offset="40%" stop-color="#410c0c"/>
<stop offset="50%" stop-color="#060606"/>
<stop offset="60%" stop-color="#09350f"/>
<stop offset="70%" stop-color="#155e1f"/>
<stop offset="80%" stop-color="#268530"/>
<stop offset="90%" stop-color="#3cab43"/>
<stop offset="100%" stop-color="#56d057"/>
</linearGradient></defs>
<rect x="217.8" y="461.6" width="6.3" height="53" fill="url(#cb)"/>
<text x="227.50" y="464.20" font-size="4.6" font-weight="normal" text-anchor="start" fill="#222"  stroke="#222" stroke-width="0.15">1.0</text>
<text x="227.50" y="474.50" font-size="4.6" font-weight="normal" text-anchor="start" fill="#222"  stroke="#222" stroke-width="0.15">0.8</text>
<text x="227.50" y="484.80" font-size="4.6" font-weight="normal" text-anchor="start" fill="#222"  stroke="#222" stroke-width="0.15">0.6</text>
<text x="227.50" y="495.10" font-size="4.6" font-weight="normal" text-anchor="start" fill="#222"  stroke="#222" stroke-width="0.15">0.4</text>
<text x="227.50" y="505.40" font-size="4.6" font-weight="normal" text-anchor="start" fill="#222"  stroke="#222" stroke-width="0.15">0.2</text>
<text x="227.50" y="515.70" font-size="4.6" font-weight="normal" text-anchor="start" fill="#222"  stroke="#222" stroke-width="0.15">0</text>
<text transform="translate(244.0,488.0) rotate(90)" font-size="5.1" text-anchor="middle" fill="#222"><tspan x="0" dy="0">Average</tspan><tspan x="0" dy="5.6">Expression</tspan></text>
<text x="319.30" y="445.00" font-size="4.9" font-weight="normal" text-anchor="middle" fill="#1a1a1a"  stroke="#1a1a1a" stroke-width="0.15">CD69</text>
<path d="M312.20 494.48V491.54M309.60 491.54H314.80" stroke="#000" stroke-width="0.8" fill="none"/>
<rect x="306.60" y="494.48" width="11.2" height="13.02" fill="#000"/>
<path d="M327.20 465.82V461.26M324.60 461.26H329.80" stroke="#ee2e24" stroke-width="0.8" fill="none"/>
<rect x="321.60" y="465.82" width="11.2" height="41.68" fill="#ee2e24"/>
<path d="M302.40 455.10V507.50H336.60M302.40 507.50h-2M302.40 494.48h-2M302.40 481.45h-2M302.40 468.42h-2M302.40 455.40h-2M312.20 507.50v2M327.20 507.50v2" stroke="#000" stroke-width="1.0" fill="none"/>
<text x="299.60" y="509.20" font-size="4.8" font-weight="normal" text-anchor="end" fill="#1a1a1a"  stroke="#1a1a1a" stroke-width="0.15">0</text>
<text x="299.60" y="496.18" font-size="4.8" font-weight="normal" text-anchor="end" fill="#1a1a1a"  stroke="#1a1a1a" stroke-width="0.15">20</text>
<text x="299.60" y="483.15" font-size="4.8" font-weight="normal" text-anchor="end" fill="#1a1a1a"  stroke="#1a1a1a" stroke-width="0.15">40</text>
<text x="299.60" y="470.12" font-size="4.8" font-weight="normal" text-anchor="end" fill="#1a1a1a"  stroke="#1a1a1a" stroke-width="0.15">60</text>
<text x="299.60" y="457.10" font-size="4.8" font-weight="normal" text-anchor="end" fill="#1a1a1a"  stroke="#1a1a1a" stroke-width="0.15">80</text>
<path d="M311.40 454.50H327.60" stroke="#000" stroke-width="0.9"/>
<text x="319.50" y="454.10" font-size="6.6" font-weight="bold" text-anchor="middle" fill="#111"  stroke="#111" stroke-width="0.25">****</text>
<text transform="translate(291.80,482.15) rotate(-90)" font-size="4.6" font-weight="bold" text-anchor="middle" fill="#222">MMI</text>
<text x="367.00" y="445.00" font-size="4.9" font-weight="normal" text-anchor="middle" fill="#1a1a1a"  stroke="#1a1a1a" stroke-width="0.15">CD137</text>
<path d="M359.00 504.37V503.12M356.40 503.12H361.60" stroke="#000" stroke-width="0.8" fill="none"/>
<rect x="353.40" y="504.37" width="11.2" height="3.13" fill="#000"/>
<path d="M374.00 468.42V460.09M371.40 460.09H376.60" stroke="#ee2e24" stroke-width="0.8" fill="none"/>
<rect x="368.40" y="468.42" width="11.2" height="39.08" fill="#ee2e24"/>
<path d="M349.20 455.10V507.50H383.40M349.20 507.50h-2M349.20 497.08h-2M349.20 486.66h-2M349.20 476.24h-2M349.20 465.82h-2M349.20 455.40h-2M359.00 507.50v2M374.00 507.50v2" stroke="#000" stroke-width="1.0" fill="none"/>
<text x="346.40" y="509.20" font-size="4.8" font-weight="normal" text-anchor="end" fill="#1a1a1a"  stroke="#1a1a1a" stroke-width="0.15">0</text>
<text x="346.40" y="498.78" font-size="4.8" font-weight="normal" text-anchor="end" fill="#1a1a1a"  stroke="#1a1a1a" stroke-width="0.15">1</text>
<text x="346.40" y="488.36" font-size="4.8" font-weight="normal" text-anchor="end" fill="#1a1a1a"  stroke="#1a1a1a" stroke-width="0.15">2</text>
<text x="346.40" y="477.94" font-size="4.8" font-weight="normal" text-anchor="end" fill="#1a1a1a"  stroke="#1a1a1a" stroke-width="0.15">3</text>
<text x="346.40" y="467.52" font-size="4.8" font-weight="normal" text-anchor="end" fill="#1a1a1a"  stroke="#1a1a1a" stroke-width="0.15">4</text>
<text x="346.40" y="457.10" font-size="4.8" font-weight="normal" text-anchor="end" fill="#1a1a1a"  stroke="#1a1a1a" stroke-width="0.15">5</text>
<path d="M358.20 454.50H374.40" stroke="#000" stroke-width="0.9"/>
<text x="366.30" y="454.10" font-size="6.6" font-weight="bold" text-anchor="middle" fill="#111"  stroke="#111" stroke-width="0.25">****</text>
<text x="414.20" y="445.00" font-size="4.9" font-weight="normal" text-anchor="middle" fill="#1a1a1a"  stroke="#1a1a1a" stroke-width="0.15">Ki-67</text>
<path d="M407.20 504.88V504.19M404.60 504.19H409.80" stroke="#000" stroke-width="0.8" fill="none"/>
<rect x="401.60" y="504.88" width="11.2" height="2.42" fill="#000"/>
<path d="M422.20 479.62V472.70M419.60 472.70H424.80" stroke="#ee2e24" stroke-width="0.8" fill="none"/>
<rect x="416.60" y="479.62" width="11.2" height="27.68" fill="#ee2e24"/>
<path d="M397.40 455.10V507.30H431.60M397.40 507.30h-2M397.40 490.00h-2M397.40 472.70h-2M397.40 455.40h-2M407.20 507.30v2M422.20 507.30v2" stroke="#000" stroke-width="1.0" fill="none"/>
<text x="394.60" y="509.00" font-size="4.8" font-weight="normal" text-anchor="end" fill="#1a1a1a"  stroke="#1a1a1a" stroke-width="0.15">0</text>
<text x="394.60" y="491.70" font-size="4.8" font-weight="normal" text-anchor="end" fill="#1a1a1a"  stroke="#1a1a1a" stroke-width="0.15">5</text>
<text x="394.60" y="474.40" font-size="4.8" font-weight="normal" text-anchor="end" fill="#1a1a1a"  stroke="#1a1a1a" stroke-width="0.15">10</text>
<text x="394.60" y="457.10" font-size="4.8" font-weight="normal" text-anchor="end" fill="#1a1a1a"  stroke="#1a1a1a" stroke-width="0.15">15</text>
<path d="M406.40 454.50H422.60" stroke="#000" stroke-width="0.9"/>
<text x="414.50" y="454.10" font-size="6.6" font-weight="bold" text-anchor="middle" fill="#111"  stroke="#111" stroke-width="0.25">****</text>
<text x="319.30" y="531.30" font-size="4.9" font-weight="normal" text-anchor="middle" fill="#1a1a1a"  stroke="#1a1a1a" stroke-width="0.15">GZB</text>
<path d="M312.20 587.52V585.95M309.60 585.95H314.80" stroke="#000" stroke-width="0.8" fill="none"/>
<rect x="306.60" y="587.52" width="11.2" height="6.28" fill="#000"/>
<path d="M327.20 557.19V547.25M324.60 547.25H329.80" stroke="#ee2e24" stroke-width="0.8" fill="none"/>
<rect x="321.60" y="557.19" width="11.2" height="36.61" fill="#ee2e24"/>
<path d="M302.40 541.20V593.80H336.60M302.40 593.80h-2M302.40 583.34h-2M302.40 572.88h-2M302.40 562.42h-2M302.40 551.96h-2M302.40 541.50h-2M312.20 593.80v2M327.20 593.80v2" stroke="#000" stroke-width="1.0" fill="none"/>
<text x="299.60" y="595.50" font-size="4.8" font-weight="normal" text-anchor="end" fill="#1a1a1a"  stroke="#1a1a1a" stroke-width="0.15">0</text>
<text x="299.60" y="585.04" font-size="4.8" font-weight="normal" text-anchor="end" fill="#1a1a1a"  stroke="#1a1a1a" stroke-width="0.15">1</text>
<text x="299.60" y="574.58" font-size="4.8" font-weight="normal" text-anchor="end" fill="#1a1a1a"  stroke="#1a1a1a" stroke-width="0.15">2</text>
<text x="299.60" y="564.12" font-size="4.8" font-weight="normal" text-anchor="end" fill="#1a1a1a"  stroke="#1a1a1a" stroke-width="0.15">3</text>
<text x="299.60" y="553.66" font-size="4.8" font-weight="normal" text-anchor="end" fill="#1a1a1a"  stroke="#1a1a1a" stroke-width="0.15">4</text>
<text x="299.60" y="543.20" font-size="4.8" font-weight="normal" text-anchor="end" fill="#1a1a1a"  stroke="#1a1a1a" stroke-width="0.15">5</text>
<path d="M311.40 540.60H327.60" stroke="#000" stroke-width="0.9"/>
<text x="319.50" y="540.20" font-size="6.6" font-weight="bold" text-anchor="middle" fill="#111"  stroke="#111" stroke-width="0.25">**</text>
<text transform="translate(291.80,568.35) rotate(-90)" font-size="4.6" font-weight="bold" text-anchor="middle" fill="#222">MMI</text>
<text x="367.30" y="531.30" font-size="4.9" font-weight="normal" text-anchor="middle" fill="#1a1a1a"  stroke="#1a1a1a" stroke-width="0.15">FAS</text>
<path d="M359.00 578.28V576.72M356.40 576.72H361.60" stroke="#000" stroke-width="0.8" fill="none"/>
<rect x="353.40" y="578.28" width="11.2" height="15.52" fill="#000"/>
<path d="M374.00 551.44V549.00M371.40 549.00H376.60" stroke="#ee2e24" stroke-width="0.8" fill="none"/>
<rect x="368.40" y="551.44" width="11.2" height="42.36" fill="#ee2e24"/>
<path d="M349.20 541.20V593.80H383.40M349.20 593.80h-2M349.20 576.37h-2M349.20 558.93h-2M349.20 541.50h-2M359.00 593.80v2M374.00 593.80v2" stroke="#000" stroke-width="1.0" fill="none"/>
<text x="346.40" y="595.50" font-size="4.8" font-weight="normal" text-anchor="end" fill="#1a1a1a"  stroke="#1a1a1a" stroke-width="0.15">0</text>
<text x="346.40" y="578.07" font-size="4.8" font-weight="normal" text-anchor="end" fill="#1a1a1a"  stroke="#1a1a1a" stroke-width="0.15">20</text>
<text x="346.40" y="560.63" font-size="4.8" font-weight="normal" text-anchor="end" fill="#1a1a1a"  stroke="#1a1a1a" stroke-width="0.15">40</text>
<text x="346.40" y="543.20" font-size="4.8" font-weight="normal" text-anchor="end" fill="#1a1a1a"  stroke="#1a1a1a" stroke-width="0.15">60</text>
<path d="M358.20 540.60H374.40" stroke="#000" stroke-width="0.9"/>
<text x="366.30" y="540.20" font-size="6.6" font-weight="bold" text-anchor="middle" fill="#111"  stroke="#111" stroke-width="0.25">****</text>
<text x="414.30" y="531.30" font-size="4.9" font-weight="normal" text-anchor="middle" fill="#1a1a1a"  stroke="#1a1a1a" stroke-width="0.15">BIM</text>
<path d="M407.20 574.38V572.53M404.60 572.53H409.80" stroke="#000" stroke-width="0.8" fill="none"/>
<rect x="401.60" y="574.38" width="11.2" height="19.73" fill="#000"/>
<path d="M422.20 555.44V550.44M419.60 550.44H424.80" stroke="#ee2e24" stroke-width="0.8" fill="none"/>
<rect x="416.60" y="555.44" width="11.2" height="38.66" fill="#ee2e24"/>
<path d="M397.40 541.20V594.10H431.60M397.40 594.10h-2M397.40 580.95h-2M397.40 567.80h-2M397.40 554.65h-2M397.40 541.50h-2M407.20 594.10v2M422.20 594.10v2" stroke="#000" stroke-width="1.0" fill="none"/>
<text x="394.60" y="595.80" font-size="4.8" font-weight="normal" text-anchor="end" fill="#1a1a1a"  stroke="#1a1a1a" stroke-width="0.15">0</text>
<text x="394.60" y="582.65" font-size="4.8" font-weight="normal" text-anchor="end" fill="#1a1a1a"  stroke="#1a1a1a" stroke-width="0.15">5</text>
<text x="394.60" y="569.50" font-size="4.8" font-weight="normal" text-anchor="end" fill="#1a1a1a"  stroke="#1a1a1a" stroke-width="0.15">10</text>
<text x="394.60" y="556.35" font-size="4.8" font-weight="normal" text-anchor="end" fill="#1a1a1a"  stroke="#1a1a1a" stroke-width="0.15">15</text>
<text x="394.60" y="543.20" font-size="4.8" font-weight="normal" text-anchor="end" fill="#1a1a1a"  stroke="#1a1a1a" stroke-width="0.15">20</text>
<path d="M406.40 544.20H422.60" stroke="#000" stroke-width="0.9"/>
<text x="414.50" y="543.80" font-size="6.6" font-weight="bold" text-anchor="middle" fill="#111"  stroke="#111" stroke-width="0.25">***</text>
<rect x="450.5" y="449.8" width="14.3" height="9.7" fill="#000"/>
<rect x="450.8" y="489.8" width="13.8" height="9.2" fill="#ee2e24" stroke="#000" stroke-width="0.7"/>
<text x="483.8" y="455.30" font-size="7.3" text-anchor="middle" fill="#111" stroke="#111" stroke-width="0.2">PD-1<tspan dy="-2.6" font-size="5.4" font-weight="normal">−</tspan><tspan dy="2.6">/</tspan></text>
<text x="483.8" y="463.75" font-size="7.3" text-anchor="middle" fill="#111" stroke="#111" stroke-width="0.2">LAG-3<tspan dy="-2.6" font-size="5.4" font-weight="normal">−</tspan><tspan dy="2.6">/</tspan></text>
<text x="483.8" y="472.20" font-size="7.3" text-anchor="middle" fill="#111" stroke="#111" stroke-width="0.2">TIM-3<tspan dy="-2.6" font-size="5.4" font-weight="normal">−</tspan></text>
<text x="483.8" y="495.80" font-size="7.3" text-anchor="middle" fill="#111" stroke="#111" stroke-width="0.2">PD-1<tspan dy="-2.6" font-size="6.2" font-weight="bold">+</tspan><tspan dy="2.6">/</tspan></text>
<text x="483.8" y="504.25" font-size="7.3" text-anchor="middle" fill="#111" stroke="#111" stroke-width="0.2">LAG-3<tspan dy="-2.6" font-size="6.2" font-weight="bold">+</tspan><tspan dy="2.6">/</tspan></text>
<text x="483.8" y="512.70" font-size="7.3" text-anchor="middle" fill="#111" stroke="#111" stroke-width="0.2">TIM-3<tspan dy="-2.6" font-size="6.2" font-weight="bold">+</tspan></text>
</svg>
</body></html>
